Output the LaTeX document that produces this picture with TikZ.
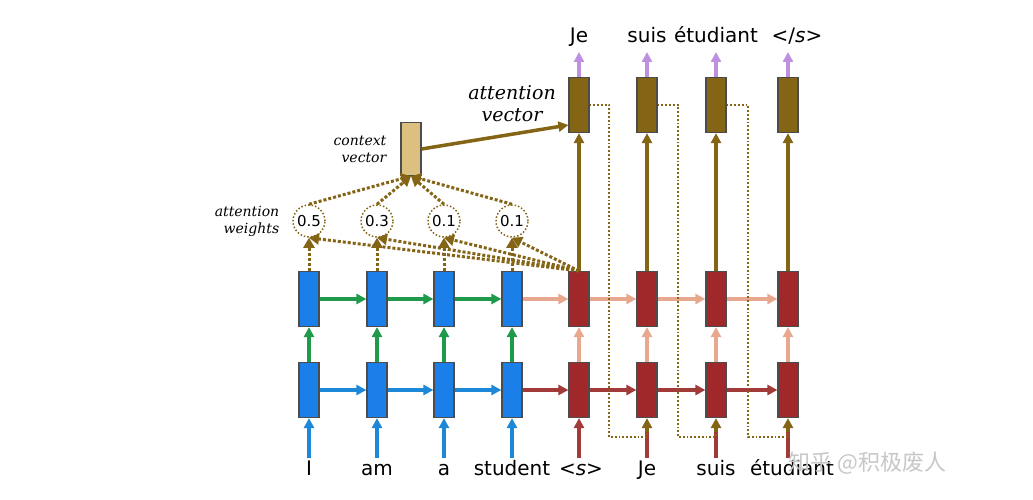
\documentclass[tikz,border=0pt]{standalone}
\usepackage{fontspec}
\setmainfont{DejaVu Sans}
\newfontfamily\serifit{DejaVu Serif}
\newfontfamily\cjk{Noto Sans CJK SC}
\usetikzlibrary{arrows.meta}
\definecolor{eblue}{HTML}{1A7FE8}
\definecolor{ablue}{HTML}{1E88D8}
\definecolor{dred}{HTML}{A1282A}
\definecolor{ared}{HTML}{A23A3A}
\definecolor{brn}{HTML}{846415}
\definecolor{tan}{HTML}{DCC080}
\definecolor{grn}{HTML}{1E9A4A}
\definecolor{sal}{HTML}{E8A890}
\definecolor{purp}{HTML}{C090E0}
\tikzset{
 box/.style={draw=black!70,line width=1.2pt,minimum width=20pt,minimum height=55pt,inner sep=0pt},
 enc/.style={box,fill=eblue},
 dec/.style={box,fill=dred},
 att/.style={box,fill=brn},
 ctx/.style={box,fill=tan,minimum height=53pt},
 circ/.style={circle,draw=brn,dotted,line width=1.5pt,minimum size=32pt,inner sep=0pt,font=\fontsize{15}{18}\selectfont},
 arr/.style={-{Triangle[length=10pt,width=10pt]},line width=3.5pt},
 darr/.style={-{Triangle[length=10pt,width=11pt]},line width=3pt,dotted,brn},
 word/.style={font=\fontsize{20}{24}\selectfont,anchor=base},
 lab/.style={font=\serifit\itshape\fontsize{14}{17}\selectfont,align=right},
}
\begin{document}
\begin{tikzpicture}[x=1pt,y=-1pt]
\useasboundingbox (0,0) rectangle (1033,500);
\fill[white] (0,0) rectangle (1033,500);
\foreach \i/\x in {1/309,2/377,3/444,4/512}{
 \node[enc] (eb\i) at (\x,390) {};
 \node[enc] (et\i) at (\x,299) {};
 \coordinate (ei\i) at (\x,458);
}
\foreach \i/\x in {1/579,2/647,3/716,4/788}{
 \node[dec] (db\i) at (\x,390) {};
 \node[dec] (dt\i) at (\x,299) {};
 \node[att] (av\i) at (\x,105) {};
 \coordinate (di\i) at (\x,458);
 \coordinate (do\i) at (\x,52);
}
\node[ctx] (cv) at (411,149) {};
\node[circ] (w1) at (309,221) {0.5};
\node[circ] (w2) at (377,221) {0.3};
\node[circ] (w3) at (444,221) {0.1};
\node[circ] (w4) at (512,221) {0.1};
\foreach \i/\t in {1/I,2/am,3/a,4/student}{\node[word] (ew\i) at (ei\i|-0,475) {\t};}
\node[word] (dw1) at (581,475) {<\textit{s}>};
\node[word] (dw2) at (647,475) {Je};
\node[word] (dw3) at (716,475) {suis};
\node[word] (dw4) at (792,475) {étudiant};
\node[word] (ow1) at (579,43) {Je};
\node[word] (ow2) at (647,43) {suis};
\node[word] (ow3) at (716,43) {étudiant};
\node[word] (ow4) at (797,43) {</\textit{s}>};
\node[lab,align=center,font=\serifit\itshape\fontsize{19}{22}\selectfont] (avl) at (512,104) {attention\\vector};
\node[lab] (cvl) at (360,149) {context\\vector};
\node[lab] (awl) at (247,221) {attention\\weights};
\foreach \i in {1,...,4}{
 \draw[arr,ablue] (ei\i) -- (eb\i.south);
 \draw[arr,grn] (eb\i.north) -- (et\i.south);
 \draw[darr] (et\i.north) -- (w\i.south);
 \draw[darr] (dt1.north) -- (w\i.south);
 \draw[darr] (w\i.north) -- (cv.south);
}
\foreach \i/\j in {1/2,2/3,3/4}{
 \draw[arr,ablue] (eb\i.east) -- (eb\j.west);
 \draw[arr,grn] (et\i.east) -- (et\j.west);
}
\draw[arr,ared] (eb4.east) -- (db1.west);
\draw[arr,sal] (et4.east) -- (dt1.west);
\foreach \i/\j in {1/2,2/3,3/4}{
 \draw[arr,ared] (db\i.east) -- (db\j.west);
 \draw[arr,sal] (dt\i.east) -- (dt\j.west);
}
\foreach \i in {1,...,4}{
 \draw[arr,sal] (db\i.north) -- (dt\i.south);
 \draw[arr,brn] (dt\i.north) -- (av\i.south);
 \draw[arr,purp] (av\i.north) -- (do\i);
}
\draw[arr,ared] (di1) -- (db1.south);
\foreach \i/\j/\xx in {1/2/609,2/3/678,3/4/748}{
 \draw[line width=3.5pt,ared] (di\j) -- ([yshift=-12pt]db\j.south);
 \draw[brn,dotted,line width=1.8pt] (av\i.east) -| (\xx,437) -| ([yshift=-12pt]db\j.south);
 \draw[arr,brn] ([yshift=-14pt]db\j.south) -- (db\j.south);
}
\draw[arr,brn] (cv.east) -- ([yshift=-20pt]av1.west);
\node[font=\cjk\fontsize{22}{26}\selectfont,text=black!22,anchor=base west] (wm) at (785,470) {知乎 @积极废人};
\end{tikzpicture}
\end{document}
